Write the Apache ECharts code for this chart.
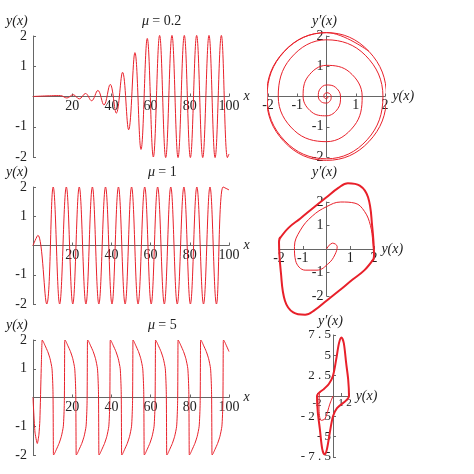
<!DOCTYPE html>
<html><head><meta charset="utf-8">
<script src="https://cdn.jsdelivr.net/npm/echarts@6/dist/echarts.min.js"></script>
<style>html,body{margin:0;padding:0;background:#fff}#c{width:474px;height:474px}</style>
</head><body><div id="c"></div>
<script>
// Row 1 (mu=0.2): extremum times and values
const t1 = [0,14,17.3,20.5,23.6,26.8,29.9,33.1,36.2,39.4,42.5,45.7,48.8,52,55.1,58.3,61.4,64.6,67.7,70.9,74,77.2,80.3,83.5,86.6,89.8,92.9,96.1,99.2,100];
const y1 = [0,0.03,-0.05,0.06,-0.08,0.1,-0.14,0.2,-0.28,0.4,-0.55,0.8,-1.1,1.45,-1.75,1.92,-2.0,2.02,-2.02,2.02,-2.02,2.02,-2.02,2.02,-2.02,2.02,-2.02,2.02,-2.02,-1.9];
// Row 2 (mu=1): extremum times and values
const t2 = [0,2.5,7,10.3,13.6,17,20.3,23.6,27,30.3,33.6,37,40.3,43.6,47,50.3,53.6,57,60.3,63.6,67,70.3,73.6,77,80.3,83.6,87,90.3,93.6,97,100];
const y2 = [0,0.35,-2,2,-2,2,-2,2,-2,2,-2,2,-2,2,-2,2,-2,2,-2,2,-2,2,-2,2,-2,2,-2,2,-2,2,1.9];
// Row 3 (mu=5): start, peak times, half-cycle shape
const start3T = [0,1,2.2,3,3.5,4.2];
const start3Y = [0,-1.2,-1.6,-1.3,-0.8,1.0];
const peaks3 = [4.7,16.3,27.9,39.5,51.0,62.5,74.0,85.6,97.2];
const shapeDt = [0,0.5,1.5,2.8,4.0,5.0,5.5,5.7];
const shapeY = [2,1.95,1.8,1.6,1.35,1.0,0.2,-1.95];
// Phase 1 (mu=0.2): quarter-turn radii of spiral
const r1 = [0.05,0.07,0.09,0.12,0.16,0.21,0.28,0.37,0.48,0.62,0.8,1.0,1.22,1.45,1.65,1.82,1.93,2.0,2.03,2.05,2.05,2.05,2.05,2.05];
// Phase 2 (mu=1)
const p2tx = [0,0.25,0.45,0.35,0.1,-0.4,-0.9,-1.3,-1.35,-1.1,-0.6,0,0.6,1.2,1.6,1.85,1.95,2.0];
const p2ty = [0,0.25,0.1,-0.25,-0.6,-0.9,-0.9,-0.5,0.1,0.8,1.4,1.8,2.0,1.95,1.6,1.0,0.3,-0.3];
const p2hx = [2,1.6,1.1,0.5,0,-0.5,-0.9,-1.4,-1.75,-1.92,-2,-1.95];
const p2hy = [-0.4,-0.9,-1.3,-1.8,-2.2,-2.6,-2.8,-2.7,-2.2,-1.0,0.3,0.5];
// Phase 3 (mu=5)
const p3tx = [0,-0.4,-1.0,-1.5,-1.75,-1.7,-1.2];
const p3ty = [0,-1.0,-2.8,-3.0,-1.5,0.3,0.8];
const p3hx = [-1.2,-0.5,0,0.4,0.75,1.05,1.35,1.65,1.9,2.0];
const p3hy = [0.8,1.5,2.5,4.5,6.5,7.2,6.5,4.0,2.0,0];

const RED = '#e8202a';
const zip = (a,b)=>a.map((v,i)=>[v,b[i]]);
const d1 = zip(t1,y1);
const d2 = zip(t2,y2);
const d3 = zip(start3T,start3Y);
peaks3.forEach(p=>{
  shapeDt.forEach((dt,i)=>d3.push([p+dt,shapeY[i]]));
  shapeDt.forEach((dt,i)=>d3.push([p+5.78+dt,-shapeY[i]]));
});
const d3c = d3.filter(p=>p[0]<=100);
const ph1 = [[0,0]];
const dirs = [[1,0],[0.707,-0.707],[0,-1],[-0.707,-0.707],[-1,0],[-0.707,0.707],[0,1],[0.707,0.707]];
r1.forEach((r,i)=>{
  const q=i%4, rn = r1[Math.min(i+1,r1.length-1)];
  const a=dirs[q*2], b=dirs[q*2+1], rm=(r+rn)/2;
  ph1.push([a[0]*r, a[1]*r*1.03]);
  ph1.push([b[0]*rm, b[1]*rm*1.03]);
});
const ph2t = zip(p2tx,p2ty);
const ph2c = zip(p2hx,p2hy).concat(zip(p2hx,p2hy).map(p=>[-p[0],-p[1]]));
ph2c.push(ph2c[0]);
const ph3t = zip(p3tx,p3ty);
const ph3c = zip(p3hx,p3hy).concat(zip(p3hx,p3hy).slice(1).map(p=>[-p[0],-p[1]]));
ph3c.push(ph3c[0]);

const FONT = 'Liberation Serif';
const lab = {fontFamily:FONT,fontSize:14,color:'#222'};
const axLine = {show:true,onZero:false,lineStyle:{color:'#666',width:1}};
const grids = [
  {left:33,top:36,width:196,height:121},
  {left:33,top:187,width:196,height:117},
  {left:33,top:340,width:196,height:115},
  {left:268,top:36,width:117,height:121},
  {left:279,top:202,width:95,height:94},
  {left:317,top:335,width:32,height:122}
];
const xAxes = [], yAxes = [];
for(let i=0;i<3;i++){
  xAxes.push({gridIndex:i,type:'value',min:0,max:100,interval:20,axisLine:axLine,offset:-grids[i].height/2,
    axisTick:{show:true,length:3,inside:true},splitLine:{show:false},
    axisLabel:Object.assign({},lab,{formatter:v=>v===0?'':v,margin:3}),
    name:'x',nameGap:2,nameTextStyle:{fontFamily:FONT,fontSize:14,fontStyle:'italic',color:'#222'}});
  yAxes.push({gridIndex:i,type:'value',min:-2,max:2,interval:1,axisLine:{show:true,lineStyle:{color:'#666'}},
    axisTick:{show:true,length:3,inside:true},splitLine:{show:false},
    axisLabel:Object.assign({},lab,{formatter:v=>v===0?'':v,margin:6})});
}
const phx = (i,fs)=>({gridIndex:i,type:'value',min:-2,max:2,interval:1,axisLine:axLine,offset:-grids[i].height/2,
    axisTick:{show:true,length:3,inside:true},splitLine:{show:false},
    axisLabel:Object.assign({},lab,{formatter:v=>v===0?'':v,margin:2,fontSize:fs,showMinLabel:true,showMaxLabel:true,hideOverlap:false}),
    name:'y(x)',nameGap:2,nameTextStyle:{fontFamily:FONT,fontSize:14,fontStyle:'italic',color:'#222'}});
xAxes.push(phx(3,14),phx(4,14),phx(5,11));
[3,4].forEach(i=>yAxes.push({gridIndex:i,type:'value',min:-2,max:2,interval:1,axisLine:axLine,offset:-grids[i].width/2,
    axisTick:{show:true,length:3,inside:true},splitLine:{show:false},
    axisLabel:Object.assign({},lab,{formatter:v=>v===0?'':v,margin:3})}));
yAxes.push({gridIndex:5,type:'value',min:-7.5,max:7.5,interval:2.5,axisLine:axLine,offset:-grids[5].width/2,
    axisTick:{show:true,length:3,inside:true},splitLine:{show:false},
    axisLabel:Object.assign({},lab,{formatter:v=>v===0?'':String(v).split('').join(' '),margin:2,fontSize:13})});

const ln = (i,data,w)=>({type:'line',xAxisIndex:i,yAxisIndex:i,data,showSymbol:false,smooth:0.4,clip:false,
  lineStyle:{color:RED,width:w},animation:false});
const series = [
  ln(0,d1,1), ln(1,d2,1), Object.assign(ln(2,d3c,1),{smooth:0.2}),
  ln(3,ph1,1), ln(4,ph2t,1), ln(4,ph2c,2), Object.assign(ln(5,ph3t,1),{smooth:0.3}), Object.assign(ln(5,ph3c,2),{smooth:0.3})
];
const txt = (x,y,s,italic)=>({type:'text',left:x,top:y,style:{text:s,font:(italic?'italic ':'')+'14px '+FONT,fill:'#222'}});
const mu = (x,y,v)=>({type:'text',left:x,top:y,style:{rich:{a:{fontFamily:FONT,fontSize:14,fontStyle:'italic'},b:{fontFamily:FONT,fontSize:14}},text:'{a|μ} {b|= '+v+'}',fill:'#222'}});
const graphic = [
  txt(6,14,'y(x)',true), txt(6,165,'y(x)',true), txt(6,318,'y(x)',true),
  mu(142,14,'0.2'), mu(148,165,'1'), mu(148,318,'5'),
  txt(312,14,'y′(x)',true), txt(312,165,'y′(x)',true), txt(318,314,'y′(x)',true)
];
const chart = echarts.init(document.getElementById('c'));
chart.setOption({animation:false,grid:grids,xAxis:xAxes,yAxis:yAxes,series,graphic});
</script></body></html>
